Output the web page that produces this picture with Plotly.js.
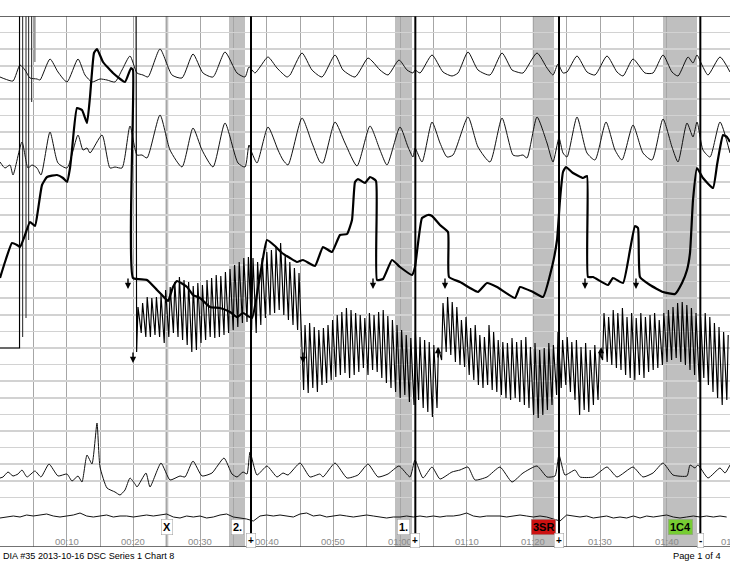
<!DOCTYPE html>
<html>
<head>
<meta charset="utf-8">
<script src="https://cdn.plot.ly/plotly-3.0.1.min.js"></script>
<style>html,body{margin:0;padding:0;background:#fff;}#chart{width:730px;height:564px;}</style>
</head>
<body>
<div id="chart"></div>
<script>
// ---------- DATA (time in seconds, vertical values in chart units, larger = lower on chart) ----------
const timeTicks = [10,20,30,40,50,60,70,80,90,100,110];
const timeLabels = ['00:10','00:20','00:30','00:40','00:50','01:00','01:10','01:20','01:30','01:40','01:50'];

// upper pneumograph
const p1T = [0,0.75,1.95,3.0,3.75,4.5,5.55,6.0,7.5,8.7,10.05,11.7,12.75,13.8,15.0,16.05,17.25,18.3,19.5,20.55,21.45,22.2,24.0,25.8,27.3,28.95,30.45,31.95,33.75,35.55,36.75,37.35,38.25,39.0,40.2,41.55,43.05,43.5,45.3,46.8,48.3,50.25,51.45,53.25,55.2,55.95,57.0,58.2,59.85,61.05,61.95,62.25,63.0,64.8,66.45,67.8,68.7,70.2,71.7,73.5,75.3,76.8,77.55,78.45,80.55,82.05,82.95,83.7,84.45,85.05,86.55,88.05,89.25,91.05,92.55,93.45,94.95,96.75,97.95,99.45,100.8,101.7,103.2,103.95,104.55,105.3,106.2,108.0,109.5];
const p1Y = [77,79,81,65,70,78,79,80,59,72,82,59,75,82,79,80,82,70,56,73,75,77,49,75,78,54,73,77,52,73,77,67,73,67,57,68,77,75,53,70,77,55,70,77,58,62,70,75,60,70,73,70,73,55,72,76,73,52,70,75,53,70,72,73,53,68,75,64,73,72,56,72,75,56,72,76,59,73,73,55,72,76,57,63,55,65,75,57,72];

// lower pneumograph
const p2T = [0,0.75,1.5,1.95,3.3,4.2,4.8,5.55,6.15,7.5,8.7,10.05,11.7,12.45,13.05,13.5,15.3,16.5,17.25,18.3,19.5,20.55,21.3,22.05,24.0,25.5,27.3,28.95,30.3,31.95,33.75,35.7,36.75,37.35,37.8,38.55,40.2,41.7,42.45,43.2,45.3,46.8,48.0,48.45,50.25,51.75,53.55,55.5,57.0,58.05,60.0,61.2,61.95,62.25,63.3,64.8,66.0,67.05,67.95,70.2,71.7,73.5,75.3,76.95,77.7,78.45,79.05,80.55,82.05,82.95,83.85,84.45,85.05,86.55,88.05,89.25,90.9,92.25,93.3,94.95,96.45,97.8,99.45,100.8,101.7,103.05,103.95,104.55,105.45,106.5,108.0,109.5];
const p2Y = [162,168,165,175,142,168,165,168,175,132,163,168,135,150,148,153,135,168,167,168,126,155,155,158,115,150,167,128,150,167,123,163,167,145,153,163,127,150,160,165,118,143,162,163,122,143,166,126,150,165,127,147,157,148,162,122,143,157,155,117,147,162,118,155,156,155,158,117,143,162,138,153,157,117,153,160,122,150,160,125,153,160,119,147,162,123,137,122,150,157,122,153];

// electrodermal (thick)
const edaT = [0,0.75,1.8,2.55,3.0,3.75,4.5,5.25,5.7,6.3,7.05,8.55,9.45,10.05,10.5,10.8,11.55,12.3,13.05,13.5,14.1,14.55,15.45,16.95,18.75,19.65,19.95,19.95,22.05,23.55,24.3,25.2,25.95,26.55,28.05,28.95,30.0,31.5,33.0,34.5,35.55,36.45,37.8,38.7,39.45,40.05,41.25,42.3,43.5,44.55,45.45,47.25,48.45,49.8,51.0,52.05,52.8,53.25,53.7,54.75,55.5,56.4,56.55,57.45,58.8,60.0,61.8,62.25,63.3,64.2,64.8,66.0,67.2,67.35,69.0,70.5,71.7,73.05,74.55,77.25,78.0,79.95,81.45,82.8,83.55,84.0,84.45,84.9,85.95,87.45,88.05,88.2,88.95,91.2,91.95,93.45,94.5,95.25,95.7,96.0,97.5,99.45,101.25,102.3,103.05,103.5,103.95,104.55,105.45,106.95,107.55,108.0,108.45,109.05,109.5];
const edaY = [278,262,243,245,247,235,222,226,210,185,177,175,178,182,168,150,108,110,123,97,53,49,62,73,82,68,70,278,280,290,295,301,287,281,287,295,298,307,308,312,317,313,318,288,258,240,246,253,258,262,260,266,247,252,235,234,220,182,179,183,177,181,280,279,260,267,275,267,218,215,216,225,232,277,282,288,292,283,287,298,287,292,297,267,240,200,172,167,173,178,176,277,277,285,278,283,250,226,228,277,285,292,294,283,270,253,200,168,178,188,165,148,135,137,142];

// cardio: per-beat systolic peak and preceding diastolic trough, four recentred segments
const cardioBeatSec = 0.69;
const c1Start = 20.7, c2Start = 45.75, c3Start = 66.45, c4Start = 90.6;
const c1Peak = [307,303,297,298,297,295,290,287,282,277,280,282,286,283,285,280,278,275,276,272,269,265,262,258,257,258,262,258,252,250,247,243,255,262,268,273];
const c1Trough = [352,333,337,337,335,337,343,337,333,337,340,345,352,350,343,340,337,338,337,335,333,330,327,323,322,330,333,325,318,315,313,310,315,320,325,330];
const c2Peak = [325,323,327,330,328,325,320,315,312,308,310,313,315,318,313,315,312,310,316,320,325,330,335,338,333,337,340,342,345,348];
const c2Trough = [390,393,388,392,385,383,380,377,375,373,378,375,372,368,375,370,372,378,383,388,392,398,395,402,405,400,408,412,417,408];
const c3Peak = [303,297,302,307,320,317,328,325,335,337,325,332,340,342,343,338,342,340,337,347,343,350,348,343,345,332,340,337,342,340,347,343,350,345,352];
const c3Trough = [360,352,355,362,365,367,375,380,385,388,385,390,392,395,398,400,398,402,405,408,415,418,415,410,405,395,388,385,392,400,415,410,412,405,400];
const c4Peak = [313,317,310,313,308,317,313,318,313,317,315,313,320,313,310,307,303,302,305,308,313,317,313,317,323,327,332,335];
const c4Trough = [360,362,365,368,370,375,378,380,375,378,372,370,368,365,362,360,358,362,365,370,375,382,378,385,392,398,405,400];
const cardioPreT = [0,2.93,2.93];
const cardioPreY = [348,348,-50];
const cardioEntryT = [20.4,20.4];
const cardioEntryY = [-50,350];

// off-scale pen sweeps at the start
const sweepT = [3.4,3.9,4.3,4.75];
const sweepBottom = [337,318,240,102];
const sweepGrayT = 5.2, sweepGrayBottom = 62;

// lower channel
const lowT = [0,0.45,1.2,1.95,2.7,3.3,4.05,5.25,6.15,7.35,8.7,10.05,10.8,11.7,12.3,13.05,13.8,14.55,15.0,16.05,17.25,18.0,18.75,19.5,20.25,20.55,21.9,22.5,24.15,25.5,27.0,27.75,28.95,30.3,31.8,33.6,34.8,35.55,36.45,37.05,37.5,38.55,40.05,41.55,42.45,43.2,45.0,46.5,48.0,48.45,50.25,52.05,53.7,55.2,56.7,58.2,59.85,61.5,62.25,63.45,64.8,66.0,67.8,69.0,70.2,71.25,73.05,75.0,76.8,78.45,80.55,82.05,83.25,83.85,84.75,86.25,87.0,88.95,91.05,92.55,94.95,96.45,97.95,99.45,100.95,103.05,103.5,104.25,104.7,106.2,108.0,108.75,109.5];
const lowY = [478,477,472,476,474,470,477,471,477,464,476,474,481,476,482,455,464,423,467,488,492,495,490,478,484,487,473,487,463,480,476,477,461,476,473,458,474,477,472,474,452,475,466,477,473,475,463,477,474,477,463,478,475,464,477,474,466,477,460,478,467,479,472,470,467,480,477,467,482,473,466,477,476,455,475,470,477,477,467,477,467,477,473,463,475,476,465,468,465,478,468,473,465];

// activity sensor, one reading per second from 0 s
const botY = [518,517,516,517,515,516,515,514,516,517,516,515,513,516,517,516,515,517,516,516,517,516,515,516,515,514,517,518,516,517,516,518,517,515,514,517,518,519,521,516,515,516,515,516,517,514,513,516,515,517,516,515,516,517,516,515,516,517,518,517,517,516,517,516,517,516,517,516,516,515,513,516,517,516,516,516,517,516,515,516,517,516,517,519,521,515,516,517,516,518,517,516,518,517,518,516,518,516,517,516,515,517,518,517,516,517,516,517,516,517];

// questions / events
const bandStart = [34.35, 59.25, 79.9, 99.45];
const bandEnd = [36.75, 61.8, 83.1, 104.55];
const xMarkT = 25.0;
const qLabels = ['X','2.','1.','3SR','1C4'];
const qT = [25.0, 35.55, 60.45, 81.45, 102.05];
const qColors = ['#ffffff','#ffffff','#ffffff','#cc1111','#77cc33'];
const eventT = [37.65, 62.3, 83.85, 105.05];
const eventSign = ['+','+','+','-'];

// recentring arrows
const edaArrowT = [19.2, 55.95, 66.75, 87.75, 95.4];
const cardioDownT = [19.95, 45.45];
const cardioUpT = [65.7, 90.15];

const footerLeft = 'DIA #35 2013-10-16 DSC Series 1 Chart 8';
const footerRight = 'Page 1 of 4';

// ---------- BUILD ----------
const FONT = 'Liberation Sans, Arial, Helvetica, sans-serif';
const X_MAX = 109.5;
const cx = [], cy = [];
cardioPreT.forEach((t,i)=>{cx.push(t); cy.push(cardioPreY[i]);});
cx.push(null); cy.push(null);
cardioEntryT.forEach((t,i)=>{cx.push(t); cy.push(cardioEntryY[i]);});
function addSeg(start, peaks, troughs){
  peaks.forEach((p,k)=>{
    const tp = start + k*cardioBeatSec;
    cx.push(tp - 0.3*cardioBeatSec); cy.push(troughs[k]);
    cx.push(tp); cy.push(p);
  });
}
addSeg(c1Start, c1Peak, c1Trough);
addSeg(c2Start, c2Peak, c2Trough);
addSeg(c3Start, c3Peak, c3Trough);
addSeg(c4Start, c4Peak, c4Trough);

const swx = [], swy = [];
sweepT.forEach((t,i)=>{swx.push(t,t,null); swy.push(-50,sweepBottom[i],null);});

const botT = botY.map((v,i)=>i);

const traces = [
  {x:p1T, y:p1Y, mode:'lines', line:{color:'#111', width:1, shape:'spline', smoothing:0.6}},
  {x:p2T, y:p2Y, mode:'lines', line:{color:'#111', width:1, shape:'spline', smoothing:0.6}},
  {x:lowT, y:lowY, mode:'lines', line:{color:'#111', width:1, shape:'spline', smoothing:0.5}},
  {x:botT, y:botY, mode:'lines', line:{color:'#111', width:1}},
  {x:cx, y:cy, mode:'lines', connectgaps:false, line:{color:'#000', width:1.15}},
  {x:swx, y:swy, mode:'lines', connectgaps:false, line:{color:'#222', width:1}},
  {x:[sweepGrayT,sweepGrayT], y:[-50,sweepGrayBottom], mode:'lines', line:{color:'#999', width:2}},
  {x:edaT, y:edaY, mode:'lines', line:{color:'#000', width:2.2, shape:'spline', smoothing:0.4}}
];

const gridT = []; for (let t=0; t<=105; t+=5) gridT.push(t);
const gridY = []; for (let k=1; k<=29; k++) gridY.push(16 + 16.6*k);

const shapes = [];
bandStart.forEach((s,i)=>shapes.push({type:'rect', xref:'x', yref:'y', x0:s, x1:bandEnd[i], y0:16, y1:547, fillcolor:'#bfbfbf', line:{width:0}, layer:'below'}));
shapes.push({type:'rect', xref:'x', yref:'y', x0:xMarkT-0.2, x1:xMarkT+0.25, y0:16, y1:547, fillcolor:'#c4c4c4', line:{width:0}, layer:'below'});
eventT.forEach(t=>shapes.push({type:'line', xref:'x', yref:'y', x0:t, x1:t, y0:16, y1:534, line:{color:'#000', width:2}, layer:'above'}));
shapes.push({type:'line', xref:'paper', yref:'y', x0:0, x1:1, y0:16, y1:16, line:{color:'#333', width:1.5}});
shapes.push({type:'line', xref:'paper', yref:'y', x0:0, x1:1, y0:547, y1:547, line:{color:'#444', width:1.5}});

const ann = [];
timeTicks.forEach((t,i)=>ann.push({x:t/X_MAX, y:541, xref:'paper', yref:'y', text:timeLabels[i], showarrow:false, font:{family:FONT, size:9.5, color:'#8a8a8a'}, xanchor:'center', yanchor:'middle'}));
qLabels.forEach((q,i)=>ann.push({x:qT[i], y:527, xref:'x', yref:'y', text:'<b>'+q+'</b>', showarrow:false, bgcolor:qColors[i], bordercolor:'#999', borderwidth:0.5, borderpad:1.5, font:{family:FONT, size:11, color:'#000'}, xanchor:'center', yanchor:'middle'}));
eventT.forEach((t,i)=>ann.push({x:t, y:540.5, xref:'x', yref:'y', text:'<b>'+eventSign[i]+'</b>', showarrow:false, bgcolor:'#ffffff', bordercolor:'#999', borderwidth:0.5, borderpad:1.5, font:{family:FONT, size:10, color:'#000'}, xanchor:'center', yanchor:'middle'}));
const arrowBase = {xref:'x', yref:'y', text:'', showarrow:true, arrowhead:2, arrowsize:0.9, arrowwidth:1.4, arrowcolor:'#000', standoff:0, ax:0};
edaArrowT.forEach(t=>ann.push(Object.assign({}, arrowBase, {x:t, y:289, ay:-12})));
cardioDownT.forEach(t=>ann.push(Object.assign({}, arrowBase, {x:t, y:363, ay:-12})));
cardioUpT.forEach(t=>ann.push(Object.assign({}, arrowBase, {x:t, y:347, ay:12})));
ann.push({x:0.001, y:-0.017, xref:'paper', yref:'paper', text:footerLeft, showarrow:false, xanchor:'left', yanchor:'middle', font:{family:FONT, size:9.1, color:'#000'}});
ann.push({x:0.99, y:-0.017, xref:'paper', yref:'paper', text:footerRight, showarrow:false, xanchor:'right', yanchor:'middle', font:{family:FONT, size:9.3, color:'#000'}});

const layout = {
  width:730, height:564,
  margin:{l:0, r:0, t:16, b:17, pad:0},
  paper_bgcolor:'#ffffff', plot_bgcolor:'#ffffff',
  showlegend:false,
  xaxis:{range:[0,X_MAX], tickvals:gridT, showticklabels:false, ticks:'', showgrid:true, gridcolor:'#a6a6a6', gridwidth:1, zeroline:false, showline:false, fixedrange:true},
  yaxis:{range:[547,16], tickvals:gridY, showticklabels:false, ticks:'', showgrid:true, gridcolor:'#d2d2d2', gridwidth:1.5, zeroline:false, showline:false, fixedrange:true},
  shapes:shapes,
  annotations:ann
};
Plotly.newPlot('chart', traces, layout, {displayModeBar:false, staticPlot:true});
</script>
</body>
</html>
